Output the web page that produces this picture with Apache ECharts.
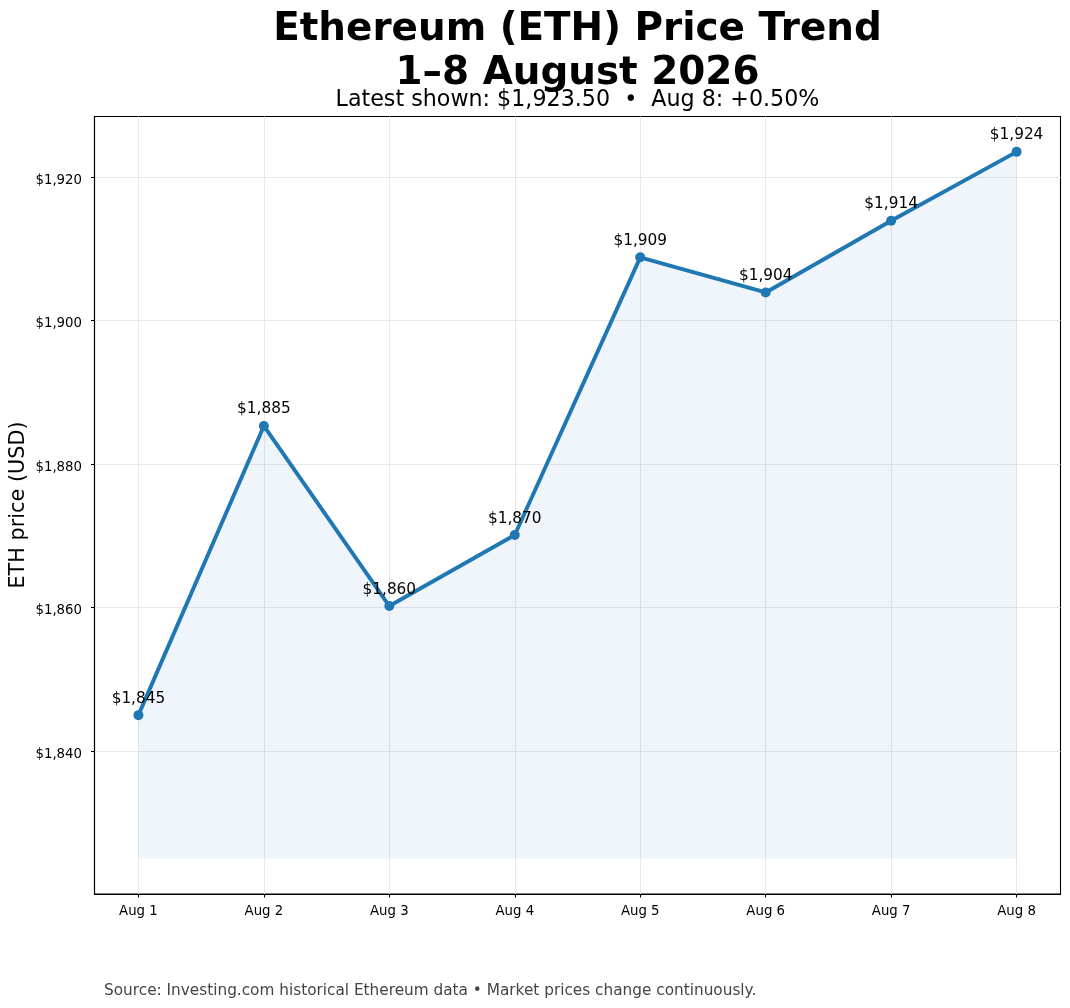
<!DOCTYPE html>
<html>
<head>
<meta charset="utf-8">
<script src="https://cdn.jsdelivr.net/npm/echarts@6/dist/echarts.min.js"></script>
<style>
html,body{margin:0;padding:0;background:#fff;}
#chart{width:1070px;height:1008px;}
</style>
</head>
<body>
<div id="chart"></div>
<script>
const categories = ['Aug 1','Aug 2','Aug 3','Aug 4','Aug 5','Aug 6','Aug 7','Aug 8'];
const prices = [1845.0, 1885.3, 1860.2, 1870.1, 1908.8, 1903.9, 1913.9, 1923.5];
const yTicks = [1840, 1860, 1880, 1900, 1920];
const fillBase = 1825;
const titleLines = ['Ethereum (ETH) Price Trend', '1–8 August 2026'];
const subtitle = 'Latest shown: $1,923.50  •  Aug 8: +0.50%';
const yName = 'ETH price (USD)';
const sourceNote = 'Source: Investing.com historical Ethereum data • Market prices change continuously.';

const FONT = 'DejaVu Sans';
const fmtUSD = v => '$' + Math.round(v).toLocaleString('en-US');
const xTicks = categories.map((c, i) => i);
const pad = 0.05 * (Math.max(...prices) - fillBase);

const chart = echarts.init(document.getElementById('chart'), null, {renderer: 'canvas'});
chart.setOption({
  backgroundColor: '#fff',
  animation: false,
  textStyle: {fontFamily: FONT},
  grid: {left: 94.5, right: 9.5, top: 116.5, bottom: 114, containLabel: false, outerBoundsMode: 'none',
         show: true, borderColor: '#000', borderWidth: 1.1, backgroundColor: 'transparent'},
  xAxis: {
    type: 'value',
    min: -0.35, max: categories.length - 1 + 0.35,
    axisLine: {show: true, onZero: false, lineStyle: {color: '#000', width: 1.1}},
    axisTick: {show: true, length: 3.5, customValues: xTicks, lineStyle: {color: '#000', width: 1}},
    axisLabel: {customValues: xTicks, margin: 11, fontSize: 13.3, color: '#000', fontFamily: FONT,
                formatter: v => categories[Math.round(v)] || ''},
    splitLine: {show: true, lineStyle: {color: '#e8e8e8', width: 1}}
  },
  yAxis: {
    type: 'value',
    min: fillBase - pad, max: Math.max(...prices) + pad,
    axisLine: {show: true, onZero: false, lineStyle: {color: '#000', width: 1.1}},
    axisTick: {show: true, length: 3.5, customValues: yTicks, lineStyle: {color: '#000', width: 1}},
    axisLabel: {customValues: yTicks, margin: 12.5, fontSize: 13.3, color: '#000', fontFamily: FONT,
                verticalAlign: 'top', lineHeight: 7, formatter: v => fmtUSD(v)},
    splitLine: {show: true, lineStyle: {color: '#e8e8e8', width: 1}}
  },
  series: [{
    type: 'line',
    data: prices.map((v, i) => [i, v]),
    symbol: 'circle', symbolSize: 10,
    itemStyle: {color: '#1f77b4'},
    lineStyle: {color: '#1f77b4', width: 3.9},
    areaStyle: {color: 'rgba(31,119,180,0.1)', origin: fillBase},
    label: {show: true, position: 'top', distance: 4, fontSize: 15.3, color: '#000', fontFamily: FONT,
            formatter: p => fmtUSD(p.value[1])},
    z: 3
  }],
  graphic: [
    {type: 'text', x: 577.5, y: 29.5, style: {text: titleLines[0], font: 'bold 38.9px "DejaVu Sans"', fill: '#000', textAlign: 'center', textVerticalAlign: 'middle'}},
    {type: 'text', x: 577.5, y: 73.5, style: {text: titleLines[1], font: 'bold 38.9px "DejaVu Sans"', fill: '#000', textAlign: 'center', textVerticalAlign: 'middle'}},
    {type: 'text', x: 577.5, y: 100.5, style: {text: subtitle, font: '22.2px "DejaVu Sans"', fill: '#000', textAlign: 'center', textVerticalAlign: 'middle'}},
    {type: 'text', x: 18.5, y: 505, rotation: Math.PI / 2, style: {text: yName, font: '20.8px "DejaVu Sans"', fill: '#000', textAlign: 'center', textVerticalAlign: 'middle'}},
    {type: 'text', x: 104, y: 991, style: {text: sourceNote, font: '15.3px "DejaVu Sans"', fill: '#444', textAlign: 'left', textVerticalAlign: 'middle'}}
  ]
});
</script>
</body>
</html>
